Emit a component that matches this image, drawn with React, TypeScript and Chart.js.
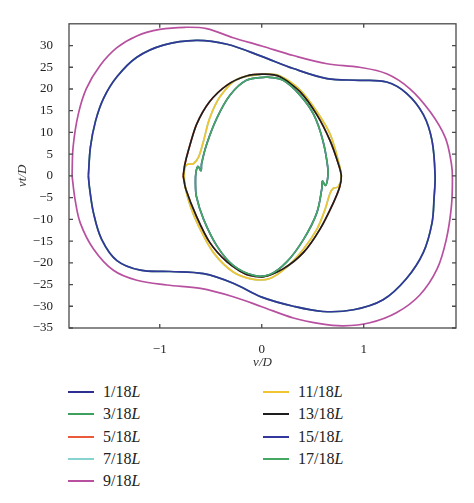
import React, { useEffect, useRef } from "react";
import { Chart, registerables } from "chart.js";

Chart.register(...registerables);

// ---- data ----
const seriesLabels = ["1/18", "3/18", "5/18", "7/18", "9/18", "11/18", "13/18", "15/18", "17/18"];
const seriesColors = ["#2c2f91", "#3f9f5f", "#e85a3a", "#86d3cf", "#b7509f", "#f0c531", "#1e1e1e", "#33379c", "#45a865"];

// outermost orbit (9/18 L)
const outerX = [-1.86, -1.85, -1.8, -1.72, -1.585, -1.42, -1.225, -1.0, -0.75, -0.54, -0.28, 0.0, 0.31, 0.64, 0.96, 1.225, 1.45, 1.65, 1.8, 1.86, 1.87, 1.86, 1.81, 1.72, 1.55, 1.32, 1.06, 0.8, 0.57, 0.31, 0.0, -0.28, -0.6, -0.93, -1.225, -1.455, -1.65, -1.78, -1.83, -1.86];
const outerY = [0, 6.6, 14.1, 20.1, 25.4, 29.5, 32.2, 33.7, 34.2, 33.9, 31.8, 29.9, 27.7, 25.8, 25.0, 23.5, 20.1, 14.8, 8.8, 2.8, -0.6, -7.0, -14.6, -21.4, -27.4, -31.5, -33.8, -34.5, -34.0, -32.7, -30.1, -27.8, -25.9, -25.1, -24.0, -21.7, -16.8, -10.8, -5.5, 0];

// second orbit (3/18 L and 15/18 L)
const bigX = [-1.7, -1.68, -1.63, -1.55, -1.42, -1.225, -0.965, -0.64, -0.34, 0.0, 0.31, 0.64, 0.96, 1.225, 1.42, 1.585, 1.67, 1.7, 1.69, 1.67, 1.585, 1.42, 1.19, 0.9, 0.6, 0.31, 0.0, -0.28, -0.57, -0.9, -1.19, -1.42, -1.57, -1.65, -1.69, -1.7];
const bigY = [0, 6.6, 12.6, 17.9, 22.8, 27.3, 30.1, 31.2, 30.3, 27.5, 24.7, 22.4, 22.0, 21.6, 19.0, 14.1, 8.1, 0, -5.0, -10.8, -17.6, -23.6, -28.5, -30.8, -31.2, -30.0, -27.9, -24.7, -22.5, -22.0, -21.7, -19.5, -14.6, -8.5, -2.5, 0];

// lens orbit (5/18 L and 13/18 L)
const lensX = [-0.77, -0.755, -0.72, -0.64, -0.51, -0.34, -0.15, 0.03, 0.18, 0.375, 0.54, 0.67, 0.755, 0.78, 0.765, 0.7, 0.57, 0.41, 0.21, 0.02, -0.15, -0.34, -0.51, -0.64, -0.745, -0.77];
const lensY = [0, 2.5, 5.8, 11.8, 17.1, 20.9, 23.0, 23.4, 22.8, 19.4, 14.1, 8.1, 2.5, 0, -2.5, -6.3, -12.3, -17.6, -21.4, -23.2, -22.7, -19.8, -15.3, -9.3, -3.0, 0];

// stepped orbit (7/18 L and 11/18 L)
const stepX = [0.02, -0.245, -0.41, -0.51, -0.57, -0.62, -0.67, -0.735, -0.76, -0.75, -0.7, -0.62, -0.475, -0.28, -0.08, 0.08, 0.245, 0.41, 0.54, 0.62, 0.67, 0.7, 0.75, 0.78, 0.75, 0.67, 0.54, 0.375, 0.18, 0.02];
const stepY = [23.5, 22.2, 18.2, 13.3, 8.1, 4.3, 2.8, 2.6, 0.9, -2.5, -7.0, -11.5, -17.6, -22.1, -23.8, -23.6, -21.0, -16.8, -12.3, -7.8, -4.0, -2.9, -2.5, -0.2, 3.5, 9.6, 14.8, 19.8, 23.0, 23.5];

// inner orbit (1/18 L and 17/18 L)
const innerX = [0.05, -0.15, -0.31, -0.44, -0.54, -0.59, -0.595, -0.625, -0.645, -0.65, -0.64, -0.57, -0.44, -0.28, -0.08, 0.08, 0.245, 0.41, 0.54, 0.59, 0.595, 0.625, 0.645, 0.65, 0.6, 0.51, 0.375, 0.21, 0.05];
const innerY = [22.8, 22.0, 18.6, 13.3, 7.3, 2.8, 1.2, 2.2, 0.8, -1.5, -4.8, -10.0, -16.1, -20.6, -22.9, -22.7, -19.8, -14.6, -8.5, -2.8, -1.2, -2.2, -0.8, 1.5, 8.1, 14.1, 18.6, 22.0, 22.8];

const xTicks = [-1, 0, 1];
const yTicks = [-35, -30, -25, -20, -15, -10, -5, 0, 5, 10, 15, 20, 25, 30];

const curveX = [innerX, bigX, lensX, stepX, outerX, stepX, lensX, bigX, innerX];
const curveY = [innerY, bigY, lensY, stepY, outerY, stepY, lensY, bigY, innerY];

const SERIF = "'Liberation Serif', 'Times New Roman', serif";

const framePlugin = {
  id: "frame",
  afterDatasetsDraw(chart: any) {
    const { ctx, chartArea, scales } = chart;
    const { left, right, top, bottom } = chartArea;
    const L = 4;
    ctx.save();
    ctx.strokeStyle = "#4a4a4a";
    ctx.lineWidth = 1.3;
    ctx.strokeRect(left, top, right - left, bottom - top);
    ctx.beginPath();
    for (const v of xTicks) {
      const p = scales.x.getPixelForValue(v);
      ctx.moveTo(p, bottom);
      ctx.lineTo(p, bottom - L);
      ctx.moveTo(p, top);
      ctx.lineTo(p, top + L);
    }
    for (const v of yTicks) {
      const p = scales.y.getPixelForValue(v);
      ctx.moveTo(left, p);
      ctx.lineTo(left + L, p);
      ctx.moveTo(right, p);
      ctx.lineTo(right - L, p);
    }
    ctx.stroke();
    ctx.restore();
  },
};

export default function App() {
  const ref = useRef<HTMLCanvasElement | null>(null);

  useEffect(() => {
    if (!ref.current) return;
    const datasets = seriesLabels.map((lab, i) => ({
      label: lab + "L",
      data: curveX[i].map((x, k) => ({ x, y: curveY[i][k] })),
      borderColor: seriesColors[i],
      backgroundColor: seriesColors[i],
      borderWidth: 1.7,
      showLine: true,
      pointRadius: 0,
      fill: false,
      tension: curveX[i] === lensX ? 0.25 : 0.35,
    }));
    // later series drawn on top (first dataset is top-most in Chart.js)
    datasets.reverse();

    const chart = new Chart(ref.current, {
      type: "scatter",
      data: { datasets },
      plugins: [framePlugin],
      options: {
        animation: false,
        responsive: false,
        events: [],
        layout: { padding: { top: 9, right: 10, left: 0, bottom: 0 } },
        plugins: { legend: { display: false }, tooltip: { enabled: false } },
        scales: {
          x: {
            type: "linear",
            min: -1.89,
            max: 1.905,
            afterBuildTicks: (s: any) => {
              s.ticks = xTicks.map((v) => ({ value: v }));
            },
            afterFit: (s: any) => {
              s.height = 50;
            },
            grid: { display: false },
            border: { display: false },
            ticks: {
              color: "#222",
              padding: 6,
              font: { family: SERIF, size: 13 },
              callback: (v: any) => (Number(v) < 0 ? "\u2212" + Math.abs(Number(v)) : String(v)),
            },
            title: {
              display: true,
              text: "v/D",
              color: "#333",
              font: { family: SERIF, size: 13, style: "italic" },
              padding: { top: 0, bottom: 8 },
            },
          },
          y: {
            type: "linear",
            min: -35,
            max: 35,
            afterBuildTicks: (s: any) => {
              s.ticks = yTicks.map((v) => ({ value: v }));
            },
            afterFit: (s: any) => {
              s.width = 61;
            },
            grid: { display: false },
            border: { display: false },
            ticks: {
              color: "#222",
              padding: 8,
              font: { family: SERIF, size: 13 },
              callback: (v: any) => (Number(v) < 0 ? "\u2212" + Math.abs(Number(v)) : String(v)),
            },
            title: {
              display: true,
              text: "vt/D",
              color: "#333",
              font: { family: SERIF, size: 13, style: "italic" },
              padding: { top: 7, bottom: 0 },
            },
          },
        },
      },
    } as any);
    return () => chart.destroy();
  }, []);

  const rowH = 22.25;
  return (
    <div style={{ position: "relative", width: 458, height: 480 }}>
      <canvas ref={ref} width={458} height={370} style={{ width: 458, height: 370, display: "block" }} />
      {seriesLabels.map((lab, i) => {
        const col = i < 5 ? 0 : 1;
        const row = i < 5 ? i : i - 5;
        const cy = 384 + row * rowH;
        const lineLeft = col === 0 ? 60 : 255;
        const textLeft = col === 0 ? 95 : 290;
        return (
          <React.Fragment key={lab}>
            <div
              style={{
                position: "absolute",
                left: lineLeft,
                top: cy - 1,
                width: 26,
                height: 2,
                background: seriesColors[i],
              }}
            />
            <div
              style={{
                position: "absolute",
                left: textLeft,
                top: cy - 10,
                height: 20,
                lineHeight: "20px",
                fontFamily: SERIF,
                fontSize: 16,
                color: "#222",
                whiteSpace: "nowrap",
              }}
            >
              {lab}
              <i>L</i>
            </div>
          </React.Fragment>
        );
      })}
    </div>
  );
}
